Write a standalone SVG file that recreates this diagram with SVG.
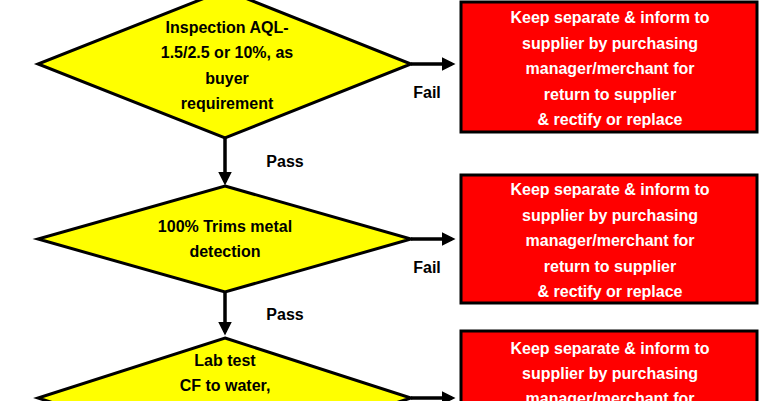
<svg xmlns="http://www.w3.org/2000/svg" width="763" height="401" viewBox="0 0 763 401">
<style>
.d{fill:#ffff00;stroke:#000;stroke-width:3}
.r{fill:#ff0000;stroke:#000;stroke-width:3}
text{font-family:"Liberation Sans",Arial,sans-serif;font-weight:bold;font-size:16px;text-anchor:middle}
.w{fill:#fff}
.c line{stroke:#000;stroke-width:3.5}
</style>
<defs><marker id="a" markerWidth="4" markerHeight="4" refX="3" refY="2" orient="auto"><path d="M0,0L4,2L0,4z" fill="#000"/></marker></defs>
<rect width="763" height="401" fill="#fff"/>
<g class="c">
<line x1="411" y1="64" x2="452" y2="64" marker-end="url(#a)"/>
<line x1="411" y1="239" x2="452" y2="239" marker-end="url(#a)"/>
<line x1="411" y1="398" x2="452" y2="398" marker-end="url(#a)"/>
<line x1="225" y1="138" x2="225" y2="182" marker-end="url(#a)"/>
<line x1="225" y1="292" x2="225" y2="332" marker-end="url(#a)"/>
<text x="427" y="98">Fail</text><text x="427" y="273">Fail</text>
<text x="285" y="167">Pass</text><text x="285" y="320">Pass</text>
</g>
<g id="d1"><polygon class="d" points="225,-10 411,64 225,138 38,64"/>
<text x="227" y="33">Inspection AQL-</text><text x="227" y="58">1.5/2.5 or 10%, as</text><text x="227" y="84">buyer</text><text x="227" y="109">requirement</text></g>
<g id="d2"><polygon class="d" points="225,186 411,239 225,292 38,239"/>
<text x="225" y="232">100% Trims metal</text><text x="225" y="257">detection</text></g>
<g id="d3"><polygon class="d" points="225,338 411,398 225,458 38,398"/>
<text x="225" y="366">Lab test</text><text x="225" y="391">CF to water,</text></g>
<g id="r1"><rect class="r" x="461" y="2" width="296" height="130"/>
<g class="w"><text x="610" y="23" class="w">Keep separate  &amp; inform to</text><text x="610" y="49" class="w">supplier  by purchasing</text><text x="610" y="74" class="w">manager/merchant   for</text><text x="610" y="100" class="w">return to supplier</text><text x="610" y="125" class="w">&amp; rectify or replace</text></g></g>
<g id="r2"><rect class="r" x="461" y="175" width="296" height="128"/>
<text x="610" y="195" class="w">Keep separate  &amp; inform to</text><text x="610" y="221" class="w">supplier  by purchasing</text><text x="610" y="246" class="w">manager/merchant   for</text><text x="610" y="272" class="w">return to supplier</text><text x="610" y="297" class="w">&amp; rectify or replace</text></g>
<g id="r3"><rect class="r" x="461" y="331" width="296" height="100"/>
<text x="610" y="354" class="w">Keep separate  &amp; inform to</text><text x="610" y="379" class="w">supplier  by purchasing</text><text x="610" y="404" class="w">manager/merchant   for</text></g>
</svg>
